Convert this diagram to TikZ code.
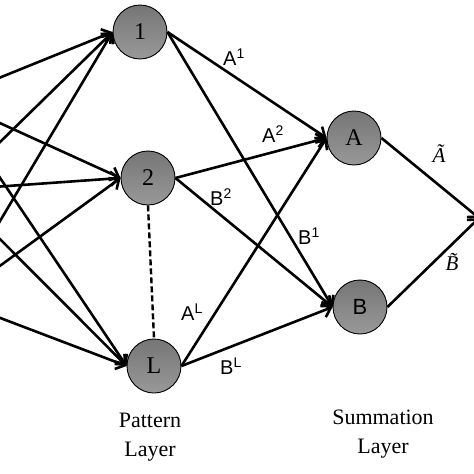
\documentclass[tikz,border=0pt]{standalone}
\usepackage{fontspec}
\setmainfont{Liberation Serif}
\setsansfont{Liberation Sans}
\usetikzlibrary{arrows.meta}
\begin{document}
\begin{tikzpicture}[x=1pt,y=-1pt,
  neuron/.style={circle, draw, line width=0.9pt, minimum size=54pt, inner sep=0pt,
    top color=black!54, bottom color=black!40, font=\fontsize{24}{24}\selectfont},
  edge/.style={line width=2.6pt, -{Straight Barb[length=8pt,width=14pt]}},
  wlab/.style={font=\sffamily\fontsize{20}{20}\selectfont, inner sep=0pt},
  tlab/.style={font=\itshape\fontsize{21}{21}\selectfont, inner sep=0pt},
  layer/.style={font=\fontsize{22}{29}\selectfont, align=center}]
\useasboundingbox (0,0) rectangle (474,474);
\clip (0,0) rectangle (474,474);
\coordinate (x1) at (-53,99);
\coordinate (x2) at (-49,190);
\coordinate (x3) at (-47,300);
\node[neuron] (p1) at (140,32) {1};
\node[neuron] (p2) at (148,178) {2};
\node[neuron] (pL) at (154,366) {L};
\node[neuron] (sA) at (354,138) {A};
\node[neuron, font=\sffamily\fontsize{22}{22}\selectfont] (sB) at (360,307) {B};
\coordinate (out) at (479,218);
\foreach \i in {x1,x2,x3}
  \foreach \j in {p1,p2,pL}
    \draw[edge] (\i) -- (\j.west);
\foreach \j in {p1,p2,pL} {
  \draw[edge] (\j.east) -- (sA.west);
  \draw[edge] (\j.east) -- (sB.west);
}
\draw[line width=2.4pt, dash pattern=on 6pt off 3pt] (p2.south) -- (pL.north);
\draw[edge] (sA.east) -- (out);
\draw[edge] (sB.east) -- (out);
\node[wlab] (l1) at (234,57) {A\textsuperscript{1}};
\node[wlab] (l2) at (273,134) {A\textsuperscript{2}};
\node[wlab] (l3) at (221,197) {B\textsuperscript{2}};
\node[wlab] (l4) at (309,236) {B\textsuperscript{1}};
\node[wlab] (l5) at (192,312) {A\textsuperscript{L}};
\node[wlab] (l6) at (231,366) {B\textsuperscript{L}};
\node[tlab] (l7) at (439,154) {\~{A}};
\node[tlab] (l8) at (452,262) {\~{B}};
\node[layer] (pat) at (150,437) {Pattern\\Layer};
\node[layer] (sum) at (383,434) {Summation\\Layer};
\end{tikzpicture}
\end{document}
